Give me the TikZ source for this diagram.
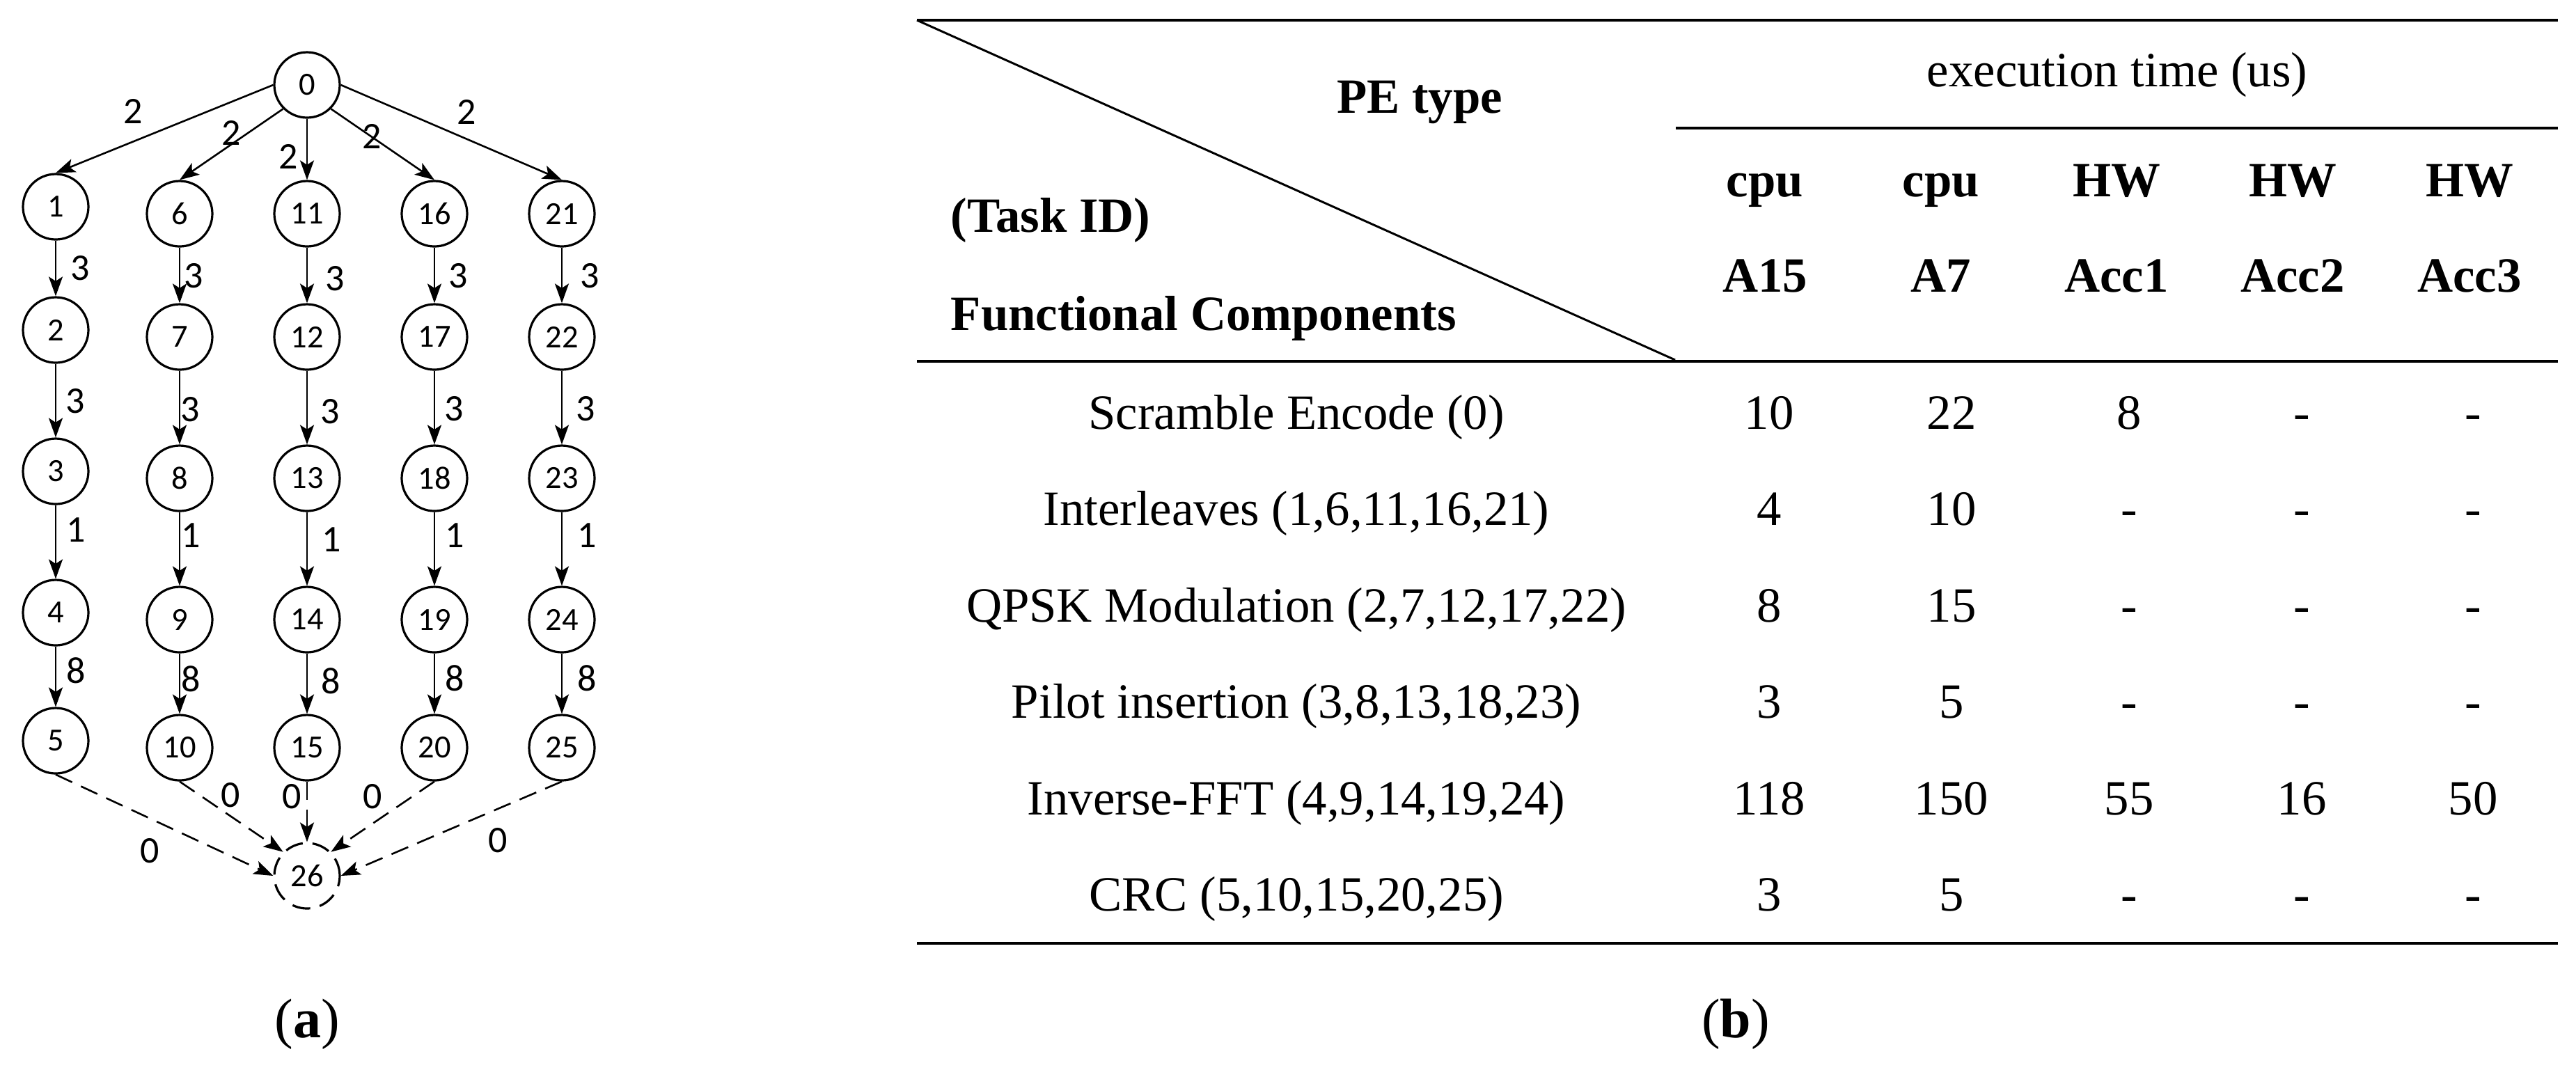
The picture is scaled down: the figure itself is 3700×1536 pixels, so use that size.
\documentclass[tikz,border=0pt]{standalone}
\usepackage{fontspec}
\setmainfont{Liberation Serif}
\newfontfamily\graphfont{Carlito}
\usetikzlibrary{arrows.meta}
\begin{document}
\begin{tikzpicture}[x=0.25pt,y=-0.25pt,
  task/.style={circle,draw,line width=0.8pt,minimum size=23.5pt,inner sep=0pt,font=\graphfont\fontsize{11.6}{12}\selectfont},
  arr/.style={-{Stealth[length=7pt,width=5pt,inset=1.6pt]},line width=0.65pt},
  darr/.style={arr,dash pattern=on 6.5pt off 3.5pt},
  wlab/.style={font=\graphfont\fontsize{13.5}{15}\selectfont,inner sep=0pt},
  hd/.style={font=\fontsize{17.7}{20}\selectfont\bfseries,anchor=base,inner sep=0pt},
  cell/.style={font=\fontsize{17.7}{20}\selectfont,anchor=base,inner sep=0pt},
  captext/.style={font=\fontsize{20}{22}\selectfont,anchor=base,inner sep=0pt},
  thickrule/.style={line width=1.1pt},
  thinrule/.style={line width=0.8pt}]

\useasboundingbox (0,0) rectangle (3700,1536);

% ---------------- (a) task graph ----------------
\node[task] (n0) at (441,122) {0};
\foreach \c/\x/\d in {0/80/0, 1/258/10, 2/441/10, 3/624/10, 4/807/10} {
  \foreach \r/\y in {1/297,2/474,3/677,4/880,5/1064} {
    \pgfmathtruncatemacro\id{\c*5+\r}
    \node[task] (n\id) at (\x,{\y+\d}) {\id};
  }
}
\node[task,dash pattern=on 6.5pt off 3.5pt] (n26) at (441,1258) {26};

\draw[arr] (n0.west) -- (n1.north);
\draw[arr] (n0.south west) -- (n6.north);
\draw[arr] (n0.south) -- (n11.north);
\draw[arr] (n0.south east) -- (n16.north);
\draw[arr] (n0.east) -- (n21.north);

\foreach \c in {0,...,4} {
  \foreach \r in {1,...,4} {
    \pgfmathtruncatemacro\a{\c*5+\r}
    \pgfmathtruncatemacro\b{\c*5+\r+1}
    \draw[arr] (n\a) -- (n\b);
  }
}

\draw[darr] (n5.south) -- (n26.west);
\draw[darr] (n10.south) -- (n26.north west);
\draw[darr] (n15.south) -- (n26.north);
\draw[darr] (n20.south) -- (n26.north east);
\draw[darr] (n25.south) -- (n26.east);

% weights on edges from 0
\node[wlab] (w1) at (191,160) {2};
\node[wlab] (w6) at (332,191) {2};
\node[wlab] (w11) at (414,225) {2};
\node[wlab] (w16) at (534,196) {2};
\node[wlab] (w21) at (670,161) {2};
% weights on vertical edges
\foreach \x/\y [count=\i] in {115/385,278/396,481/400,658/396,847/396}
  \node[wlab] (wa\i) at (\x,\y) {3};
\foreach \x/\y [count=\i] in {108/576,273/588,474/591,652/587,841/587}
  \node[wlab] (wb\i) at (\x,\y) {3};
\foreach \x/\y [count=\i] in {109/761,274/769,476/775,653/769,843/769}
  \node[wlab] (wc\i) at (\x,\y) {1};
\foreach \x/\y [count=\i] in {109/963,274/975,475/978,653/974,843/974}
  \node[wlab] (wd\i) at (\x,\y) {8};
% weights on dashed edges
\foreach \x/\y [count=\i] in {215/1222,331/1142,419/1144,535/1144,715/1207}
  \node[wlab] (we\i) at (\x,\y) {0};

\node[captext] (capa) at (441,1490) {(\textbf{a})};

% ---------------- (b) table ----------------
\draw[thickrule] (1317,29) -- (3674,29);
\draw[thinrule] (2407,184) -- (3674,184);
\draw[thinrule] (1317,519) -- (3674,519);
\draw[thickrule] (1317,1355) -- (3674,1355);
\draw[line width=0.75pt] (1317,29) -- (2406,517);

\node[hd] (pe) at (2039,162) {PE type};
\node[hd,anchor=base west] (tid) at (1365,333) {(Task ID)};
\node[hd,anchor=base west] (fc) at (1365,474) {Functional Components};
\node[cell] (et) at (3041,124) {execution time (us)};

\foreach \x/\t/\u [count=\i] in {2535/cpu/A15, 2788/cpu/A7, 3040/HW/Acc1, 3293/HW/Acc2, 3547/HW/Acc3} {
  \node[hd] (ht\i) at (\x,282) {\t};
  \node[hd] (hb\i) at (\x,419) {\u};
}

\foreach \y/\lab [count=\r] in {
  616/{Scramble Encode (0)},
  754/{Interleaves (1,6,11,16,21)},
  893/{QPSK Modulation (2,7,12,17,22)},
  1031/{Pilot insertion (3,8,13,18,23)},
  1170/{Inverse-FFT (4,9,14,19,24)},
  1308/{CRC (5,10,15,20,25)}}
  \node[cell] (row\r) at (1862,\y) {\lab};

\foreach \y/\va/\vb/\vc/\vd/\ve [count=\r] in {
  616/10/22/8/-/-,
  754/4/10/-/-/-,
  893/8/15/-/-/-,
  1031/3/5/-/-/-,
  1170/118/150/55/16/50,
  1308/3/5/-/-/-} {
  \node[cell] (d\r a) at (2541,\y) {\va};
  \node[cell] (d\r b) at (2803,\y) {\vb};
  \node[cell] (d\r c) at (3058,\y) {\vc};
  \node[cell] (d\r d) at (3306,\y) {\vd};
  \node[cell] (d\r e) at (3552,\y) {\ve};
}

\node[captext] (capb) at (2493,1490) {(\textbf{b})};
\end{tikzpicture}
\end{document}
